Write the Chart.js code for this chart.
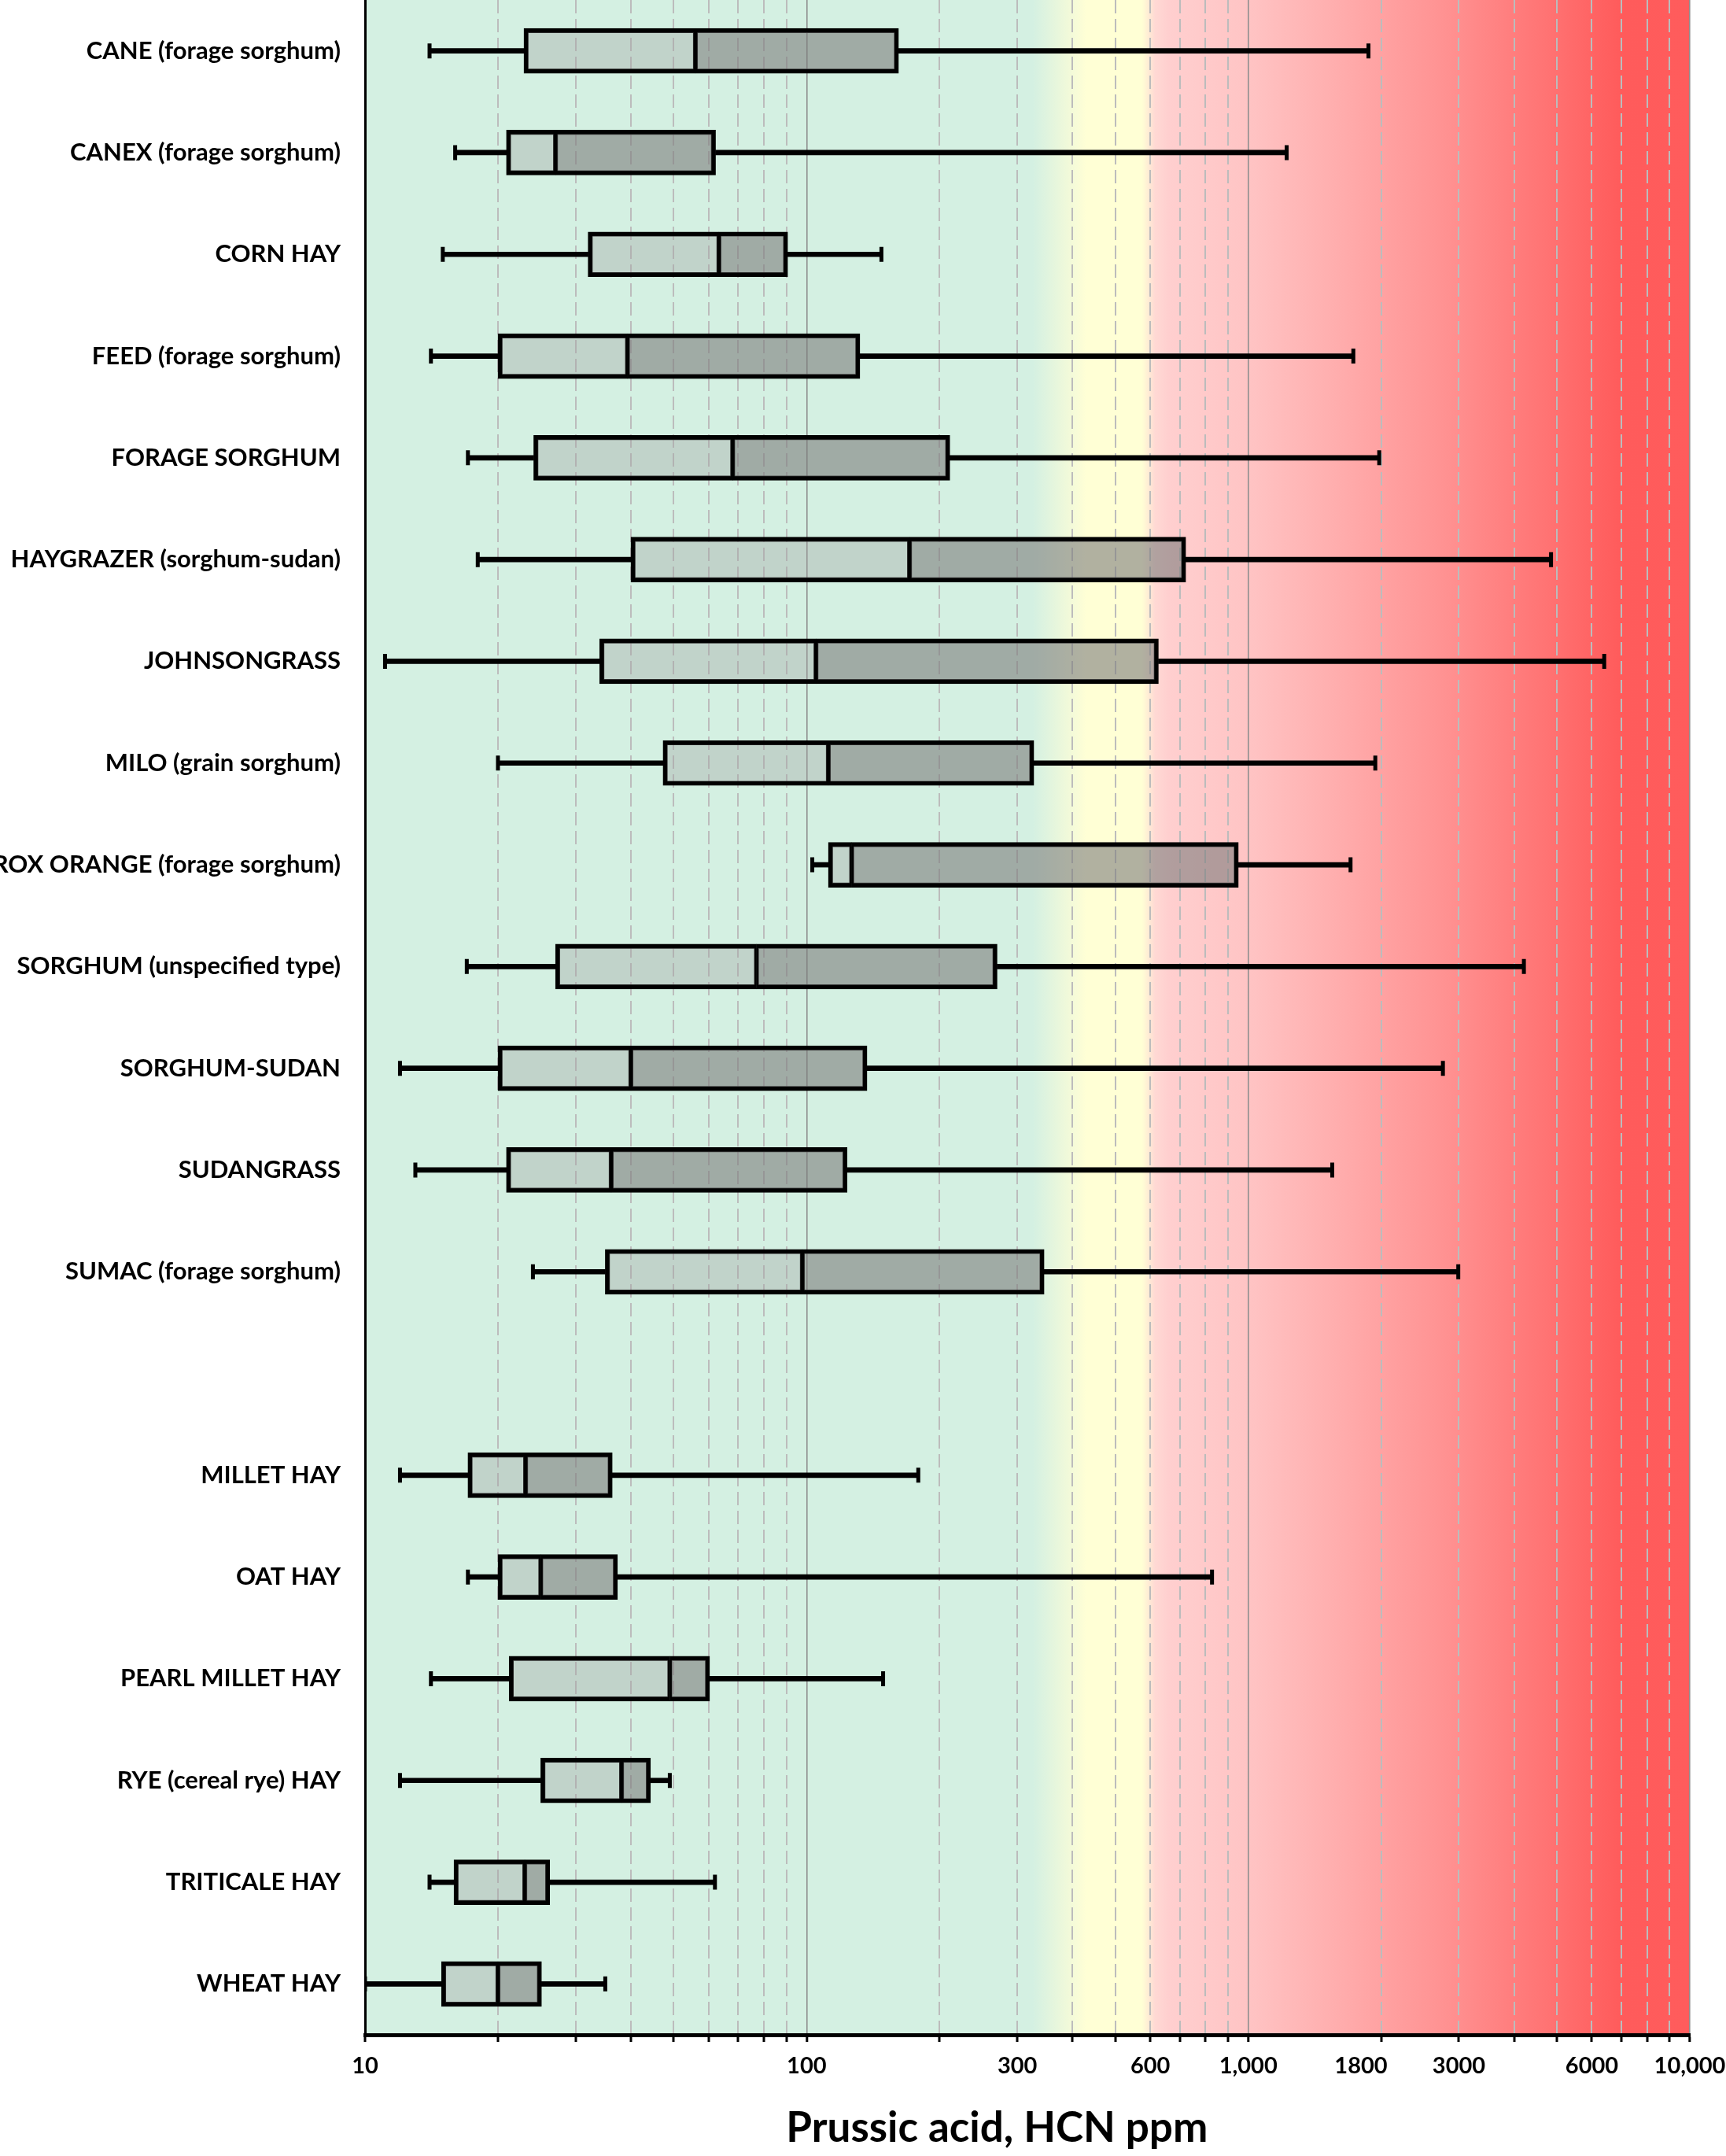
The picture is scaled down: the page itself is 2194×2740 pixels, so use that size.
<!DOCTYPE html>
<html>
<head>
<meta charset="utf-8">
<script src="https://cdn.jsdelivr.net/npm/chart.js@4"></script>
<style>
html,body{margin:0;padding:0;background:#ffffff;}
canvas{display:block;}
</style>
</head>
<body>
<canvas id="c" width="2194" height="2740" style="width:2194px;height:2740px"></canvas>
<script>
// ---- DATA ----
const categories = [
  'CANE (forage sorghum)',
  'CANEX (forage sorghum)',
  'CORN HAY',
  'FEED (forage sorghum)',
  'FORAGE SORGHUM',
  'HAYGRAZER (sorghum-sudan)',
  'JOHNSONGRASS',
  'MILO (grain sorghum)',
  'ROX ORANGE (forage sorghum)',
  'SORGHUM (unspecified type)',
  'SORGHUM-SUDAN',
  'SUDANGRASS',
  'SUMAC (forage sorghum)',
  '',
  'MILLET HAY',
  'OAT HAY',
  'PEARL MILLET HAY',
  'RYE (cereal rye) HAY',
  'TRITICALE HAY',
  'WHEAT HAY'
];
const minVals    = [14.0, 16.0, 15.0, 14.1, 17.1, 18.0, 11.1, 20.0, 103, 17.0, 12.0, 13.0, 24.0, null, 12.0, 17.1, 14.1, 12.0, 14.0, 10.0];
const q1Vals     = [22.9, 20.9, 32.0, 20.0, 24.1, 40.0, 34.0, 47.3, 112, 27.0, 20.0, 20.9, 35.0, null, 17.1, 20.0, 21.2, 25.0, 15.9, 14.9];
const medianVals = [56.0, 27.0, 63.3, 39.3, 68.0, 171, 105, 112, 126.5, 77.0, 40.0, 36.1, 97.8, null, 23.1, 25.0, 49.0, 38.1, 23.0, 20.0];
const q3Vals     = [161.5, 62.2, 90.6, 132, 211, 722, 626, 327, 950, 270, 137, 123.5, 345, null, 36.3, 37.3, 60.3, 44.3, 26.2, 25.1];
const maxVals    = [1872, 1222, 147.7, 1730, 1980, 4850, 6400, 1940, 1705, 4210, 2760, 1550, 2990, null, 179, 828, 149, 49.0, 62.0, 35.0];

const axisTickValues = [10,20,30,40,50,60,70,80,90,100,200,300,400,500,600,700,800,900,1000,1800,2000,3000,4000,5000,6000,7000,8000,9000,10000];
const tickLabelValues = [10, 100, 300, 600, 1000, 1800, 3000, 6000, 10000];
const tickLabels = ['10', '100', '300', '600', '1,000', '1800', '3000', '6000', '10,000'];
const solidGridValues = [100, 1000, 10000];
const hiddenGridValues = [10, 1800];
const axisTitle = 'Prussic acid, HCN ppm';

const zoneStops = [
  [10, '#d4f0e2'], [325, '#d4f0e2'], [405, '#f6fbd8'], [430, '#ffffd5'], [575, '#ffffd5'],
  [615, '#ffd9d4'], [660, '#ffcfcf'], [1000, '#ffc4c4'], [2000, '#ffa2a2'], [3000, '#ff8e8e'],
  [5000, '#ff7070'], [6000, '#ff6464'], [7000, '#ff5b5b'], [10000, '#ff5c5c']
];

const FONT = 'Lato, "Open Sans", "DejaVu Sans", sans-serif';

const pair = (a, b) => categories.map((c, i) => (a[i] == null || b[i] == null) ? null : [a[i], b[i]]);
const capPoints = [];
categories.forEach((c, i) => {
  if (minVals[i] != null) capPoints.push({x: minVals[i], y: c});
  if (maxVals[i] != null) capPoints.push({x: maxVals[i], y: c});
});

const zonesPlugin = {
  id: 'zones',
  beforeDraw(chart) {
    const {ctx, chartArea} = chart;
    const {left, right, top, bottom} = chartArea;
    const xs = chart.scales.x;
    const g = ctx.createLinearGradient(left, 0, right, 0);
    zoneStops.forEach(([v, col]) => {
      const p = (xs.getPixelForValue(v) - left) / (right - left);
      g.addColorStop(Math.min(1, Math.max(0, p)), col);
    });
    ctx.save();
    ctx.fillStyle = g;
    ctx.fillRect(left, top, right - left, bottom - top);
    ctx.restore();
  }
};

const tickVal = (ctx) => (ctx && ctx.tick) ? ctx.tick.value : undefined;

new Chart(document.getElementById('c'), {
  type: 'bar',
  data: {
    labels: categories,
    datasets: [
      {
        type: 'bar', indexAxis: 'y', label: 'Q1-median',
        data: pair(q1Vals, medianVals),
        backgroundColor: 'rgba(160,160,160,0.36)',
        borderColor: '#000000',
        borderWidth: {top: 5.5, bottom: 5.5, left: 5.5, right: 2.75},
        borderSkipped: false, barThickness: 57, grouped: false
      },
      {
        type: 'bar', indexAxis: 'y', label: 'median-Q3',
        data: pair(medianVals, q3Vals),
        backgroundColor: 'rgba(125,125,125,0.6)',
        borderColor: '#000000',
        borderWidth: {top: 5.5, bottom: 5.5, left: 2.75, right: 5.5},
        borderSkipped: false, barThickness: 57, grouped: false
      },
      {
        type: 'bar', indexAxis: 'y', label: 'lower whisker',
        data: pair(minVals, q1Vals),
        backgroundColor: '#000000', borderWidth: 0,
        borderSkipped: false, barThickness: 6, grouped: false
      },
      {
        type: 'bar', indexAxis: 'y', label: 'upper whisker',
        data: pair(q3Vals, maxVals),
        backgroundColor: '#000000', borderWidth: 0,
        borderSkipped: false, barThickness: 6, grouped: false
      },
      {
        type: 'scatter', label: 'whisker caps',
        data: capPoints,
        showLine: false,
        pointStyle: 'line', pointRotation: 90, pointRadius: 9.5, pointHoverRadius: 9.5,
        pointBorderWidth: 5, pointBorderColor: '#000000', pointBackgroundColor: '#000000'
      }
    ]
  },
  options: {
    indexAxis: 'y',
    responsive: false,
    devicePixelRatio: 1,
    animation: false,
    events: [],
    layout: {autoPadding: false, padding: {left: 0, right: 46, top: 0, bottom: 0}},
    plugins: {
      legend: {display: false},
      tooltip: {enabled: false},
      title: {display: false}
    },
    scales: {
      x: {
        type: 'logarithmic', position: 'bottom', min: 10, max: 10000, offset: false,
        afterBuildTicks: (s) => { s.ticks = axisTickValues.slice().sort((a, b) => a - b).map(v => ({value: v})); },
        afterFit: (s) => { s.height = 154; s.paddingLeft = 0; s.paddingRight = 0; },
        ticks: {
          autoSkip: false, maxRotation: 0, minRotation: 0, padding: 13, color: '#000000',
          font: {family: FONT, weight: 'bold', size: 29},
          callback: (val) => { const i = tickLabelValues.indexOf(val); return i >= 0 ? tickLabels[i] : ''; }
        },
        grid: {
          offset: false, drawOnChartArea: true, drawTicks: true, tickLength: 9, tickWidth: 3,
          color: (ctx) => {
            const v = tickVal(ctx);
            if (hiddenGridValues.includes(v)) return 'rgba(0,0,0,0)';
            if (solidGridValues.includes(v)) return '#8f8f8f';
            return '#bcbcbc';
          },
          lineWidth: (ctx) => solidGridValues.includes(tickVal(ctx)) ? 1.6 : 2,
          tickColor: (ctx) => tickVal(ctx) === 1800 ? 'rgba(0,0,0,0)' : '#000000'
        },
        border: {
          display: true, color: '#000000', width: 5,
          dash: (ctx) => {
            const v = tickVal(ctx);
            if (v === undefined || solidGridValues.includes(v)) return [];
            return [17, 7];
          }
        },
        title: {
          display: true, text: axisTitle + '\u00a0\u00a0\u00a0\u00a0\u00a0\u00a0', color: '#000000',
          font: {family: FONT, weight: 'bold', size: 53},
          padding: {top: 0, bottom: 3}
        }
      },
      y: {
        type: 'category', position: 'left', labels: categories, offset: true,
        afterFit: (s) => { s.width = 464; s.paddingTop = 0; s.paddingBottom = 0; },
        grid: {display: false, drawTicks: false, drawOnChartArea: false, offset: true},
        border: {display: true, color: '#000000', width: 3},
        ticks: {
          autoSkip: false, padding: 31, color: '#000000',
          font: {family: FONT, weight: 'bold', size: 31}
        }
      }
    }
  },
  plugins: [zonesPlugin]
});
</script>
</body>
</html>
